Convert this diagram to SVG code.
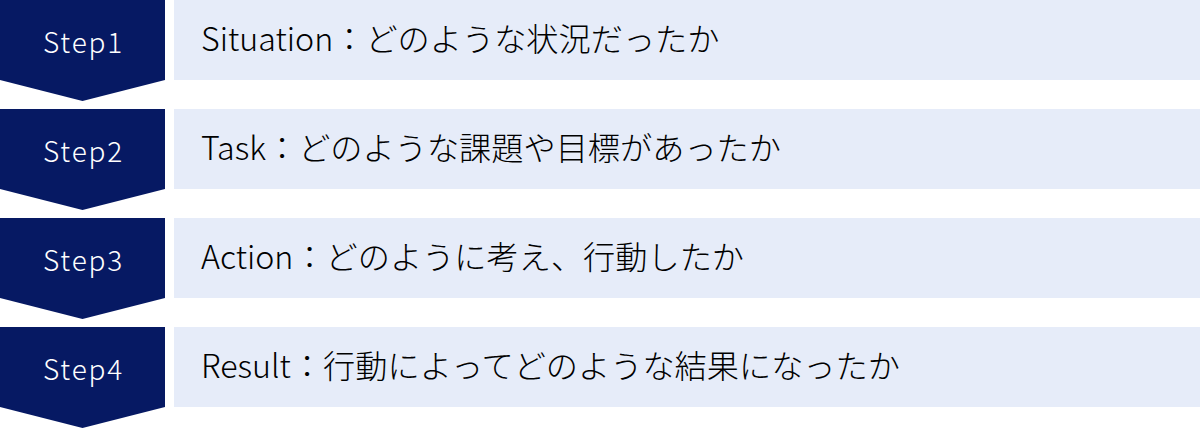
<svg xmlns="http://www.w3.org/2000/svg" width="1200" height="429" viewBox="0 0 1200 429">
<style>
.step{fill:#061963}
.band{fill:#E6ECF9}
.lbl{font-family:"Noto Sans CJK JP","Noto Sans",sans-serif;font-size:28px;font-weight:300;fill:#ffffff;letter-spacing:1.8px;text-anchor:middle}
.txt{font-family:"Noto Sans CJK JP","Noto Sans",sans-serif;font-size:32.2px;font-weight:300;fill:#000000}
</style>
<g id="connectors"></g>
<g id="step1">
<rect class="band" x="174" y="0" width="1026" height="80"/>
<polygon class="step" points="0,0 165,0 165,80 82.5,101 0,80"/>
<text class="lbl" x="83.5" y="52.5">Step1</text>
<text class="txt" x="201" y="51">Situation：どのような状況だったか</text>
</g>
<g id="step2">
<rect class="band" x="174" y="109" width="1026" height="80"/>
<polygon class="step" points="0,109 165,109 165,189 82.5,210 0,189"/>
<text class="lbl" x="83.5" y="161.5">Step2</text>
<text class="txt" x="201" y="160">Task：どのような課題や目標があったか</text>
</g>
<g id="step3">
<rect class="band" x="174" y="218" width="1026" height="80"/>
<polygon class="step" points="0,218 165,218 165,298 82.5,319 0,298"/>
<text class="lbl" x="83.5" y="270.5">Step3</text>
<text class="txt" x="201" y="269">Action：どのように考え、行動したか</text>
</g>
<g id="step4">
<rect class="band" x="174" y="327" width="1026" height="80"/>
<polygon class="step" points="0,327 165,327 165,407 82.5,428 0,407"/>
<text class="lbl" x="83.5" y="379.5">Step4</text>
<text class="txt" x="201" y="378">Result：行動によってどのような結果になったか</text>
</g>
</svg>
